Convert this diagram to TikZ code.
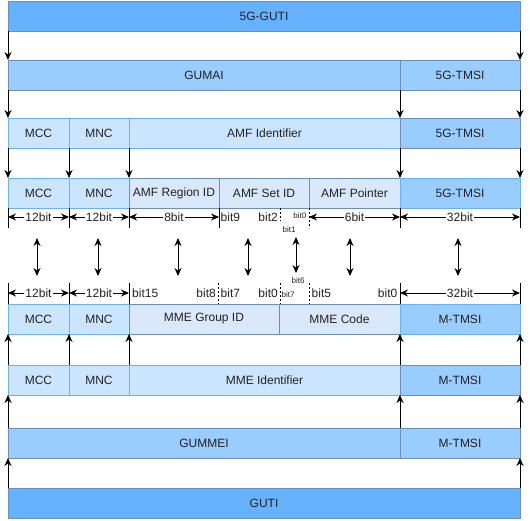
\documentclass[tikz,border=0pt]{standalone}
\usepackage{fontspec}
\setmainfont{Liberation Sans}
\usetikzlibrary{arrows.meta}
\definecolor{cA}{HTML}{66B2FF}
\definecolor{cB}{HTML}{99CCFF}
\definecolor{cC}{HTML}{CCE5FF}
\definecolor{cD}{HTML}{DAE8FC}
\definecolor{bdA}{HTML}{6C8EBF}
\definecolor{bdB}{HTML}{66B2FF}
\definecolor{txt}{HTML}{222222}
\tikzset{
  cell/.style={draw=bdA, line width=1pt, inner sep=0pt, outer sep=0pt, anchor=north west,
    minimum height=30pt, text=txt, font=\fontsize{12}{14}\selectfont},
  dark/.style={cell, fill=cA},
  mid/.style={cell, fill=cB},
  light/.style={cell, fill=cC, draw=bdB},
  pale/.style={cell, fill=cD},
  arr/.style={-{Stealth[length=8pt,width=7pt]}, line width=1pt, black},
  dbl/.style={{Stealth[length=8pt,width=7pt]}-{Stealth[length=8pt,width=7pt]}, line width=1pt, black},
  tick/.style={line width=1pt, black},
  dtick/.style={line width=0.8pt, black, dash pattern=on 2pt off 2pt},
  lbl/.style={font=\fontsize{12}{14}\selectfont, text=txt, inner sep=1pt, fill=white},
  tiny/.style={font=\fontsize{8}{9}\selectfont, text=txt, inner sep=0.5pt},
  bitl/.style={font=\fontsize{12}{14}\selectfont, text=txt, inner sep=0.5pt},
}
\begin{document}
\begin{tikzpicture}[x=1pt,y=-1pt]
\useasboundingbox (0,0) rectangle (530,520);
% row 1
\node[dark, minimum width=512pt] (g5) at (8,1) {5G-GUTI};
% row 2
\node[mid, minimum width=392pt] (gumai) at (8,60) {GUMAI};
\node[mid, minimum width=120pt] (t2) at (400,60) {5G-TMSI};
% row 3
\node[light, minimum width=61pt] (mcc3) at (8,118) {MCC};
\node[light, minimum width=60pt] (mnc3) at (69,118) {MNC};
\node[light, minimum width=271pt] (amfid) at (129,118) {AMF Identifier};
\node[mid, minimum width=120pt] (t3) at (400,118) {5G-TMSI};
% row 4
\node[light, minimum width=61pt] (mcc4) at (8,178) {MCC};
\node[light, minimum width=60pt] (mnc4) at (69,178) {MNC};
\node[pale, minimum width=90pt] (amfr) at (129,178) {AMF Region ID};
\node[pale, minimum width=90pt] (amfs) at (219,178) {AMF Set ID};
\node[pale, minimum width=91pt] (amfp) at (309,178) {AMF Pointer};
\node[mid, draw=bdB, minimum width=120pt] (t4) at (400,178) {5G-TMSI};
% row 5
\node[light, minimum width=61pt] (mcc5) at (8,304) {MCC};
\node[light, minimum width=60pt] (mnc5) at (69,304) {MNC};
\node[pale, minimum width=150pt] (mmeg) at (129,304) {MME Group ID};
\node[pale, minimum width=121pt] (mmec) at (279,304) {MME Code};
\node[mid, draw=bdB, minimum width=120pt] (m5) at (400,304) {M-TMSI};
% row 6
\node[light, minimum width=61pt] (mcc6) at (8,365) {MCC};
\node[light, minimum width=60pt] (mnc6) at (69,365) {MNC};
\node[light, minimum width=271pt] (mmeid) at (129,365) {MME Identifier};
\node[mid, minimum width=120pt] (m6) at (400,365) {M-TMSI};
% row 7
\node[mid, minimum width=392pt] (gummei) at (8,428) {GUMMEI};
\node[mid, minimum width=120pt] (m7) at (400,428) {M-TMSI};
% row 8
\node[dark, minimum width=512pt] (guti) at (8,488) {GUTI};

% downward arrows
\draw[arr] (g5.south west) -- (gumai.north west);
\draw[arr] (g5.south east) -- (t2.north east);
\draw[arr] (gumai.south west) -- (mcc3.north west);
\draw[arr] (t2.south west) -- (t3.north west);
\draw[arr] (t2.south east) -- (t3.north east);
\draw[arr] (mcc3.south west) -- (mcc4.north west);
\draw[arr] (mnc3.south west) -- (mnc4.north west);
\draw[arr] (amfid.south west) -- (amfr.north west);
\draw[arr] (t3.south west) -- (t4.north west);
\draw[arr] (t3.south east) -- (t4.north east);
% upward arrows
\draw[arr] (mcc6.north west) -- (mcc5.south west);
\draw[arr] (mnc6.north west) -- (mnc5.south west);
\draw[arr] (mmeid.north west) -- (mmeg.south west);
\draw[arr] (m6.north west) -- (m5.south west);
\draw[arr] (m6.north east) -- (m5.south east);
\draw[arr] (gummei.north west) -- (mcc6.south west);
\draw[arr] (m7.north west) -- (m6.south west);
\draw[arr] (m7.north east) -- (m6.south east);
\draw[arr] (guti.north west) -- (gummei.south west);
\draw[arr] (guti.north east) -- (m7.south east);

% upper ticks
\foreach \x/\n in {8/a,69/b,129/c,219/d,309/f,400/g,520/h} {
  \coordinate (ut\n) at (\x,208);
  \coordinate (ub\n) at (\x,228);
  \coordinate (ud\n) at (\x,217);
}
\coordinate (ute) at (280,208);
\coordinate (ube) at (280,221);
\foreach \n in {a,b,c,d,g,h} \draw[tick] (ut\n) -- (ub\n);
\draw[dtick] (ute) -- (ube);
\draw[dtick] (utf) -- (ubf);
\draw[dbl] (uda) -- (udb) node[midway, lbl] {12bit};
\draw[dbl] (udb) -- (udc) node[midway, lbl] {12bit};
\draw[dbl] (udc) -- (udd) node[midway, lbl] {8bit};
\draw[dbl] (udf) -- (udg) node[midway, lbl] {6bit};
\draw[dbl] (udg) -- (udh) node[midway, lbl] {32bit};
\node[bitl, anchor=west] (b9) at (220,217) {bit9};
\node[bitl, anchor=east] (b2) at (278.5,217) {bit2};
\node[tiny, anchor=east] (b0u) at (307,216) {bit0};
\node[tiny] (b1) at (289,230) {bit1};

% lower ticks
\foreach \x/\n in {8/a,69/b,129/c,218/d,280/e,309/f,400/g,520/h} {
  \coordinate (lt\n) at (\x,283);
  \coordinate (lb\n) at (\x,304);
  \coordinate (ld\n) at (\x,293);
}
\foreach \n in {a,b,c,g,h} \draw[tick] (lt\n) -- (lb\n);
\foreach \n in {d,e,f} \draw[dtick] (lt\n) -- (lb\n);
\draw[dbl] (lda) -- (ldb) node[midway, lbl] {12bit};
\draw[dbl] (ldb) -- (ldc) node[midway, lbl] {12bit};
\draw[dbl] (ldg) -- (ldh) node[midway, lbl] {32bit};
\node[bitl, anchor=west] (b15) at (131.5,293) {bit15};
\node[bitl, anchor=east] (b8) at (216.5,293) {bit8};
\node[bitl, anchor=west] (b7) at (220,293) {bit7};
\node[bitl, anchor=east] (b0a) at (278.5,293) {bit0};
\node[tiny, anchor=west] (b7s) at (281,295) {bit7};
\node[bitl, anchor=west] (b5) at (311,293) {bit5};
\node[bitl, anchor=east] (b0b) at (398,293) {bit0};
\node[tiny] (b6) at (298,281) {bit6};

% vertical double arrows
\foreach \x/\n in {37/a,98/b,178/c,248/d,350/f,458/g} {
  \coordinate (va\n) at (\x,238);
  \coordinate (vb\n) at (\x,276);
  \draw[dbl] (va\n) -- (vb\n);
}
\coordinate (vae) at (296,237);
\coordinate (vbe) at (296,273);
\draw[dbl] (vae) -- (vbe);
\end{tikzpicture}
\end{document}
